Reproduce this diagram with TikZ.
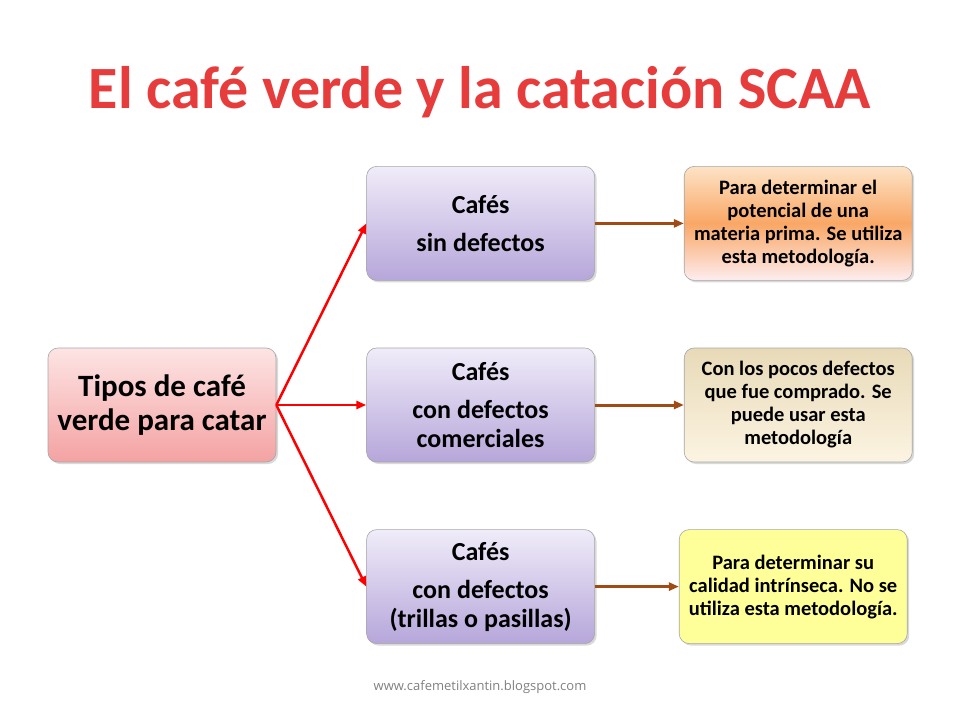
\documentclass[tikz,border=0pt]{standalone}
\usepackage{fontspec}
\setmainfont{Carlito}
\newfontfamily\webfont{Open Sans}
\usepackage{xcolor}
\usetikzlibrary{arrows.meta}
\usetikzlibrary{shadows}
\usetikzlibrary{positioning}

\definecolor{titlered}{HTML}{E63C3C}
\definecolor{arrowred}{HTML}{FF0000}
\definecolor{arrowbrown}{HTML}{A04A14}
\definecolor{pinktop}{HTML}{FDE4E4}
\definecolor{pinkbot}{HTML}{F4A2A2}
\definecolor{lilatop}{HTML}{F0ECF9}
\definecolor{lilabot}{HTML}{B6A6DA}
\definecolor{orantop}{HTML}{FDE3C6}
\definecolor{oranmid}{HTML}{F9A766}
\definecolor{oranbot}{HTML}{FDEDEF}
\definecolor{beigetop}{HTML}{E8DAB8}
\definecolor{beigebot}{HTML}{FCF4E2}
\definecolor{amarillo}{HTML}{FFFF99}

\begin{document}
\begin{tikzpicture}[x=1pt,y=-1pt,node distance=90pt and 90pt,semithick,
  >={Triangle[length=10pt,width=8pt]}]
 				 \tikzstyle{box}=[draw=gray!70, rounded corners=10pt, align=center,
 				   minimum width=228pt, minimum height=114pt, inner sep=2pt,
 				   font=\bfseries, drop shadow={shadow xshift=2pt,shadow yshift=-2pt,opacity=.3}]
 				 \tikzstyle{tipo}=[box, top color=pinktop, bottom color=pinkbot,
 				   font=\fontsize{31}{34}\selectfont\bfseries]
 				 \tikzstyle{cafe}=[box, top color=lilatop, bottom color=lilabot,
 				   font=\fontsize{26}{29}\selectfont\bfseries]
 				 \tikzstyle{nota}=[box, font=\fontsize{20.5}{23}\selectfont\bfseries]
 				 \tikzstyle{rojo}=[->, draw=arrowred, line width=2.5pt]
 				 \tikzstyle{cafeflecha}=[->, draw=arrowbrown, line width=3pt]
 				 \useasboundingbox (0,0) rectangle (960,720);
 					 \node[font=\fontsize{60}{70}\selectfont\bfseries, text=titlered]
 					   (titulo) at (480,92) {El café verde y la catación SCAA};
 					 \node[tipo]          (T) at (162,405) {Tipos de café\\verde para catar};
  					 \node[cafe]          (S) [right=90pt of T] {Cafés\\[9pt]con defectos\\comerciales};
  					 \node[cafe]          (B) [above=67pt of S] {Cafés\\[9pt]sin defectos};
  					 \node[cafe]          (C) [below=67pt of S] {Cafés\\[9pt]con defectos\\(trillas o pasillas)};
  					 \node[nota, top color=orantop, bottom color=oranbot, middle color=oranmid]
  					   (PB) [right=89pt of B] {Para determinar el\\potencial de una\\materia prima. Se utiliza\\esta metodología.};
  					 \node[nota, top color=beigetop, bottom color=beigebot]
  					   (PS) [right=89pt of S] {Con los pocos defectos\\que fue comprado. Se\\puede usar esta\\metodología};
  					 \node[nota, fill=amarillo]
  					   (PC) [right=84pt of C] {Para determinar su\\calidad intrínseca. No se\\utiliza esta metodología.};
 					 \node[font=\webfont\fontsize{13}{15}\selectfont, text=gray]
 					   (web) at (480,687) {www.cafemetilxantin.blogspot.com};
 					  \path
 					 			(T.east) edge[rojo] (B.west)
 					 			(T.east) edge[rojo] (S.west)
 					 			(T.east) edge[rojo] (C.west)
 					 			(B) edge[cafeflecha] (PB)
 					 			(S) edge[cafeflecha] (PS)
 					 			(C) edge[cafeflecha] (PC);
				\end{tikzpicture}
\end{document}
